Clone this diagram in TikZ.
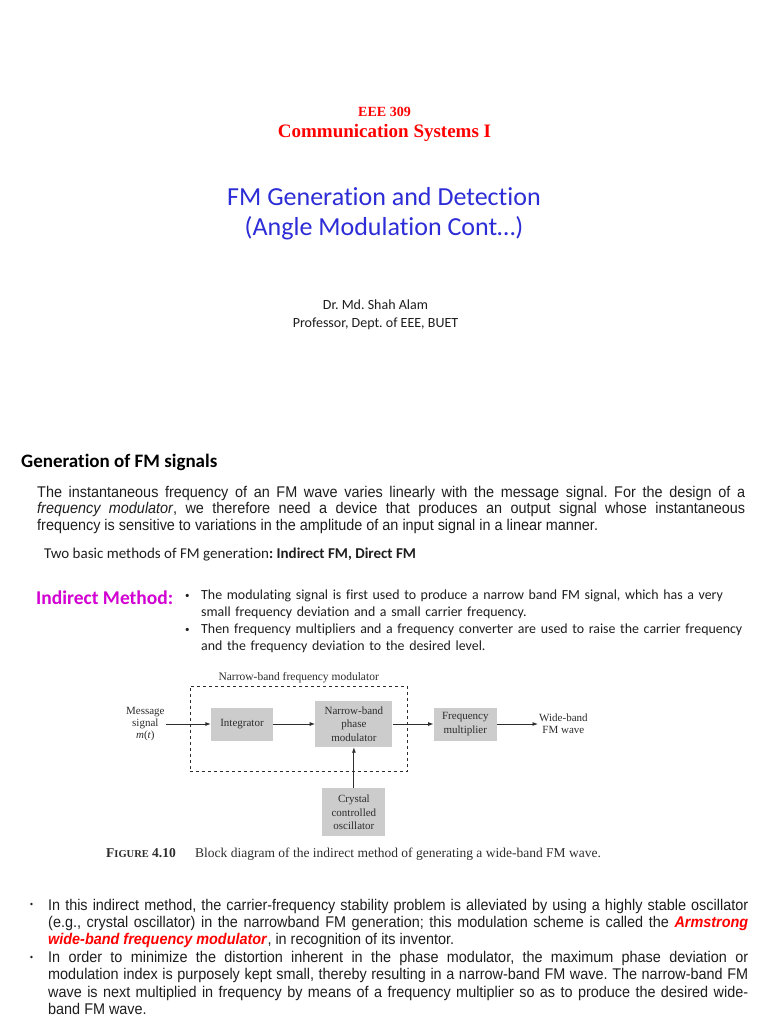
\documentclass[tikz,border=0pt]{standalone}
\usepackage{fontspec}
\setmainfont{Liberation Serif}
\newfontfamily\slidefont[Ligatures=NoCommon]{Carlito}
\newfontfamily\bodyfont[FakeStretch=0.93]{Liberation Sans}
\usetikzlibrary{arrows.meta, positioning, fit}
\definecolor{titleblue}{RGB}{45,45,215}
\definecolor{methodpink}{RGB}{210,0,210}
\definecolor{textgray}{RGB}{30,30,30}
\definecolor{boxgray}{RGB}{204,204,204}
\definecolor{linegray}{RGB}{45,45,45}
\newcommand{\smallbullet}[2]{\makebox[#1][l]{\hspace{1pt}\raisebox{#2}{\fontsize{9}{9}\selectfont\textbullet}}}
\frenchspacing

\begin{document}
\begin{tikzpicture}[x=1pt, y=-1pt, >={Latex[length=5.5pt, width=4pt]}]
        \tikzstyle{txt}=[inner sep=0pt, anchor=base west]
        \tikzstyle{ctxt}=[inner sep=0pt, anchor=base]
        \tikzstyle{block}=[rectangle, fill=boxgray, inner sep=1pt, align=center, font=\fontsize{11}{13.5}\selectfont, text=linegray]
        \tikzstyle{lbl}=[inner sep=1pt, align=center, font=\fontsize{11}{12}\selectfont, text=linegray]
        \tikzstyle{wire}=[->, draw=linegray, line width=0.9pt]
        \useasboundingbox[fill=white] (0,0) rectangle (768,1024);

        % title block
        \node[ctxt, font=\bfseries\fontsize{14}{16}\selectfont, text=red] (code) at (384.5,117) {EEE 309};
        \node[ctxt, font=\bfseries\fontsize{19}{22}\selectfont, text=red] (course) at (384.5,137.5) {Communication Systems I};
        \node[ctxt, font=\slidefont\fontsize{26}{30}\selectfont, text=titleblue] (title) at (384,205.5) {FM Generation and Detection};
        \node[ctxt, font=\slidefont\fontsize{26}{30}\selectfont, text=titleblue] (subtitle) at (384,235.5) {(Angle Modulation Cont…)};
        \node[ctxt, font=\slidefont\fontsize{14}{16}\selectfont, text=textgray] (author) at (375.5,309.5) {Dr. Md. Shah Alam};
        \node[ctxt, font=\slidefont\fontsize{14}{16}\selectfont, text=textgray] (affil) at (375.5,327.5) {Professor, Dept. of EEE, BUET};

        % text
        \node[txt, font=\slidefont\bfseries\fontsize{19}{22}\selectfont] (gen) at (21,467) {Generation of FM signals};
        \node[txt, text width=708pt, align=justify, font=\bodyfont\fontsize{15.5}{16.5}\selectfont, text=textgray] (intro) at (37,497) {The instantaneous frequency of an FM wave varies linearly with the message signal. For the design of a\linebreak \textit{frequency modulator}, we therefore need a device that produces an output signal whose instantaneous\linebreak frequency is sensitive to variations in the amplitude of an input signal in a linear manner.};
        \node[txt, font=\slidefont\fontsize{15}{17}\selectfont, text=textgray] (methods) at (44,558) {Two basic methods of FM generation\textbf{: Indirect FM, Direct FM}};
        \node[txt, font=\slidefont\bfseries\fontsize{19.5}{22}\selectfont, text=methodpink] (indirect) at (36,604.5) {Indirect Method:};
        \node[txt, text width=580pt, align=left, font=\slidefont\fontsize{13.9}{17.2}\selectfont, text=textgray] (step1) at (184,599) {\hangindent=17pt\hangafter=1\smallbullet{17pt}{0.5pt}The modulating signal is first used to produce a narrow band FM signal, which has a very\newline small frequency deviation and a small carrier frequency.\par};
        \node[txt, text width=580pt, align=left, font=\slidefont\fontsize{13.9}{17.2}\selectfont, text=textgray] (step2) at (184,633) {\hangindent=17pt\hangafter=1\smallbullet{17pt}{0.5pt}Then frequency multipliers and a frequency converter are used to raise the carrier frequency\newline and the frequency deviation to the desired level.\par};

        % block diagram
        \node[block, minimum width=62pt, minimum height=33pt] (integ) at (242,724) {Integrator};
        \node[block, minimum width=77pt, minimum height=46pt, right=42pt of integ] (pmod) {Narrow-band\\phase\\modulator};
        \node[block, minimum width=63pt, minimum height=33pt, right=41pt of pmod] (fmul) {Frequency\\multiplier};
        \node[block, minimum width=63pt, minimum height=48pt, below=41pt of pmod] (xtal) {Crystal\\controlled\\oscillator};
        \node[lbl, left=45pt of integ] (msg) {Message\\signal\\\textit{m}(\textit{t})};
        \node[lbl, right=41pt of fmul] (wide) {Wide-band\\FM wave};
        \node[draw=linegray, dashed, fit=(integ)(pmod), inner xsep=18pt, inner ysep=19pt, xshift=-3pt, yshift=-4.5pt] (nbfm) {};
        \node[lbl, font=\fontsize{11.5}{12}\selectfont, above=2pt of nbfm] (nbfmlbl) {Narrow-band frequency modulator};

        \draw[wire] (msg) -- (integ);
        \draw[wire] (integ) -- (pmod);
        \draw[wire] (pmod) -- (fmul);
        \draw[wire] (fmul) -- (wide);
        \draw[wire] (xtal) -- (pmod);

        \node[txt, font=\fontsize{13.5}{15}\selectfont, text=linegray] (caption) at (106,857.5) {\makebox[89pt][l]{\bfseries F{\fontsize{10.5}{12}\selectfont IGURE} 4.10}Block diagram of the indirect method of generating a wide-band FM wave.};

        % notes
        \node[txt, text width=719pt, align=justify, font=\bodyfont\fontsize{15.5}{17.3}\selectfont, text=textgray] (note1) at (29,910) {\hangindent=19pt\hangafter=1\smallbullet{19pt}{2.5pt}In this indirect method, the carrier-frequency stability problem is alleviated by using a highly stable oscillator\linebreak (e.g., crystal oscillator) in the narrowband FM generation; this modulation scheme is called the \textcolor{red}{\textbf{\textit{Armstrong\linebreak wide-band frequency modulator}}}, in recognition of its inventor.\par};
        \node[txt, text width=719pt, align=justify, font=\bodyfont\fontsize{15.5}{17.3}\selectfont, text=textgray] (note2) at (29,962.5) {\hangindent=19pt\hangafter=1\smallbullet{19pt}{2.5pt}In order to minimize the distortion inherent in the phase modulator, the maximum phase deviation or\linebreak modulation index is purposely kept small, thereby resulting in a narrow-band FM wave. The narrow-band FM\linebreak wave is next multiplied in frequency by means of a frequency multiplier so as to produce the desired wide-\linebreak band FM wave.\par};
    \end{tikzpicture}
\end{document}
